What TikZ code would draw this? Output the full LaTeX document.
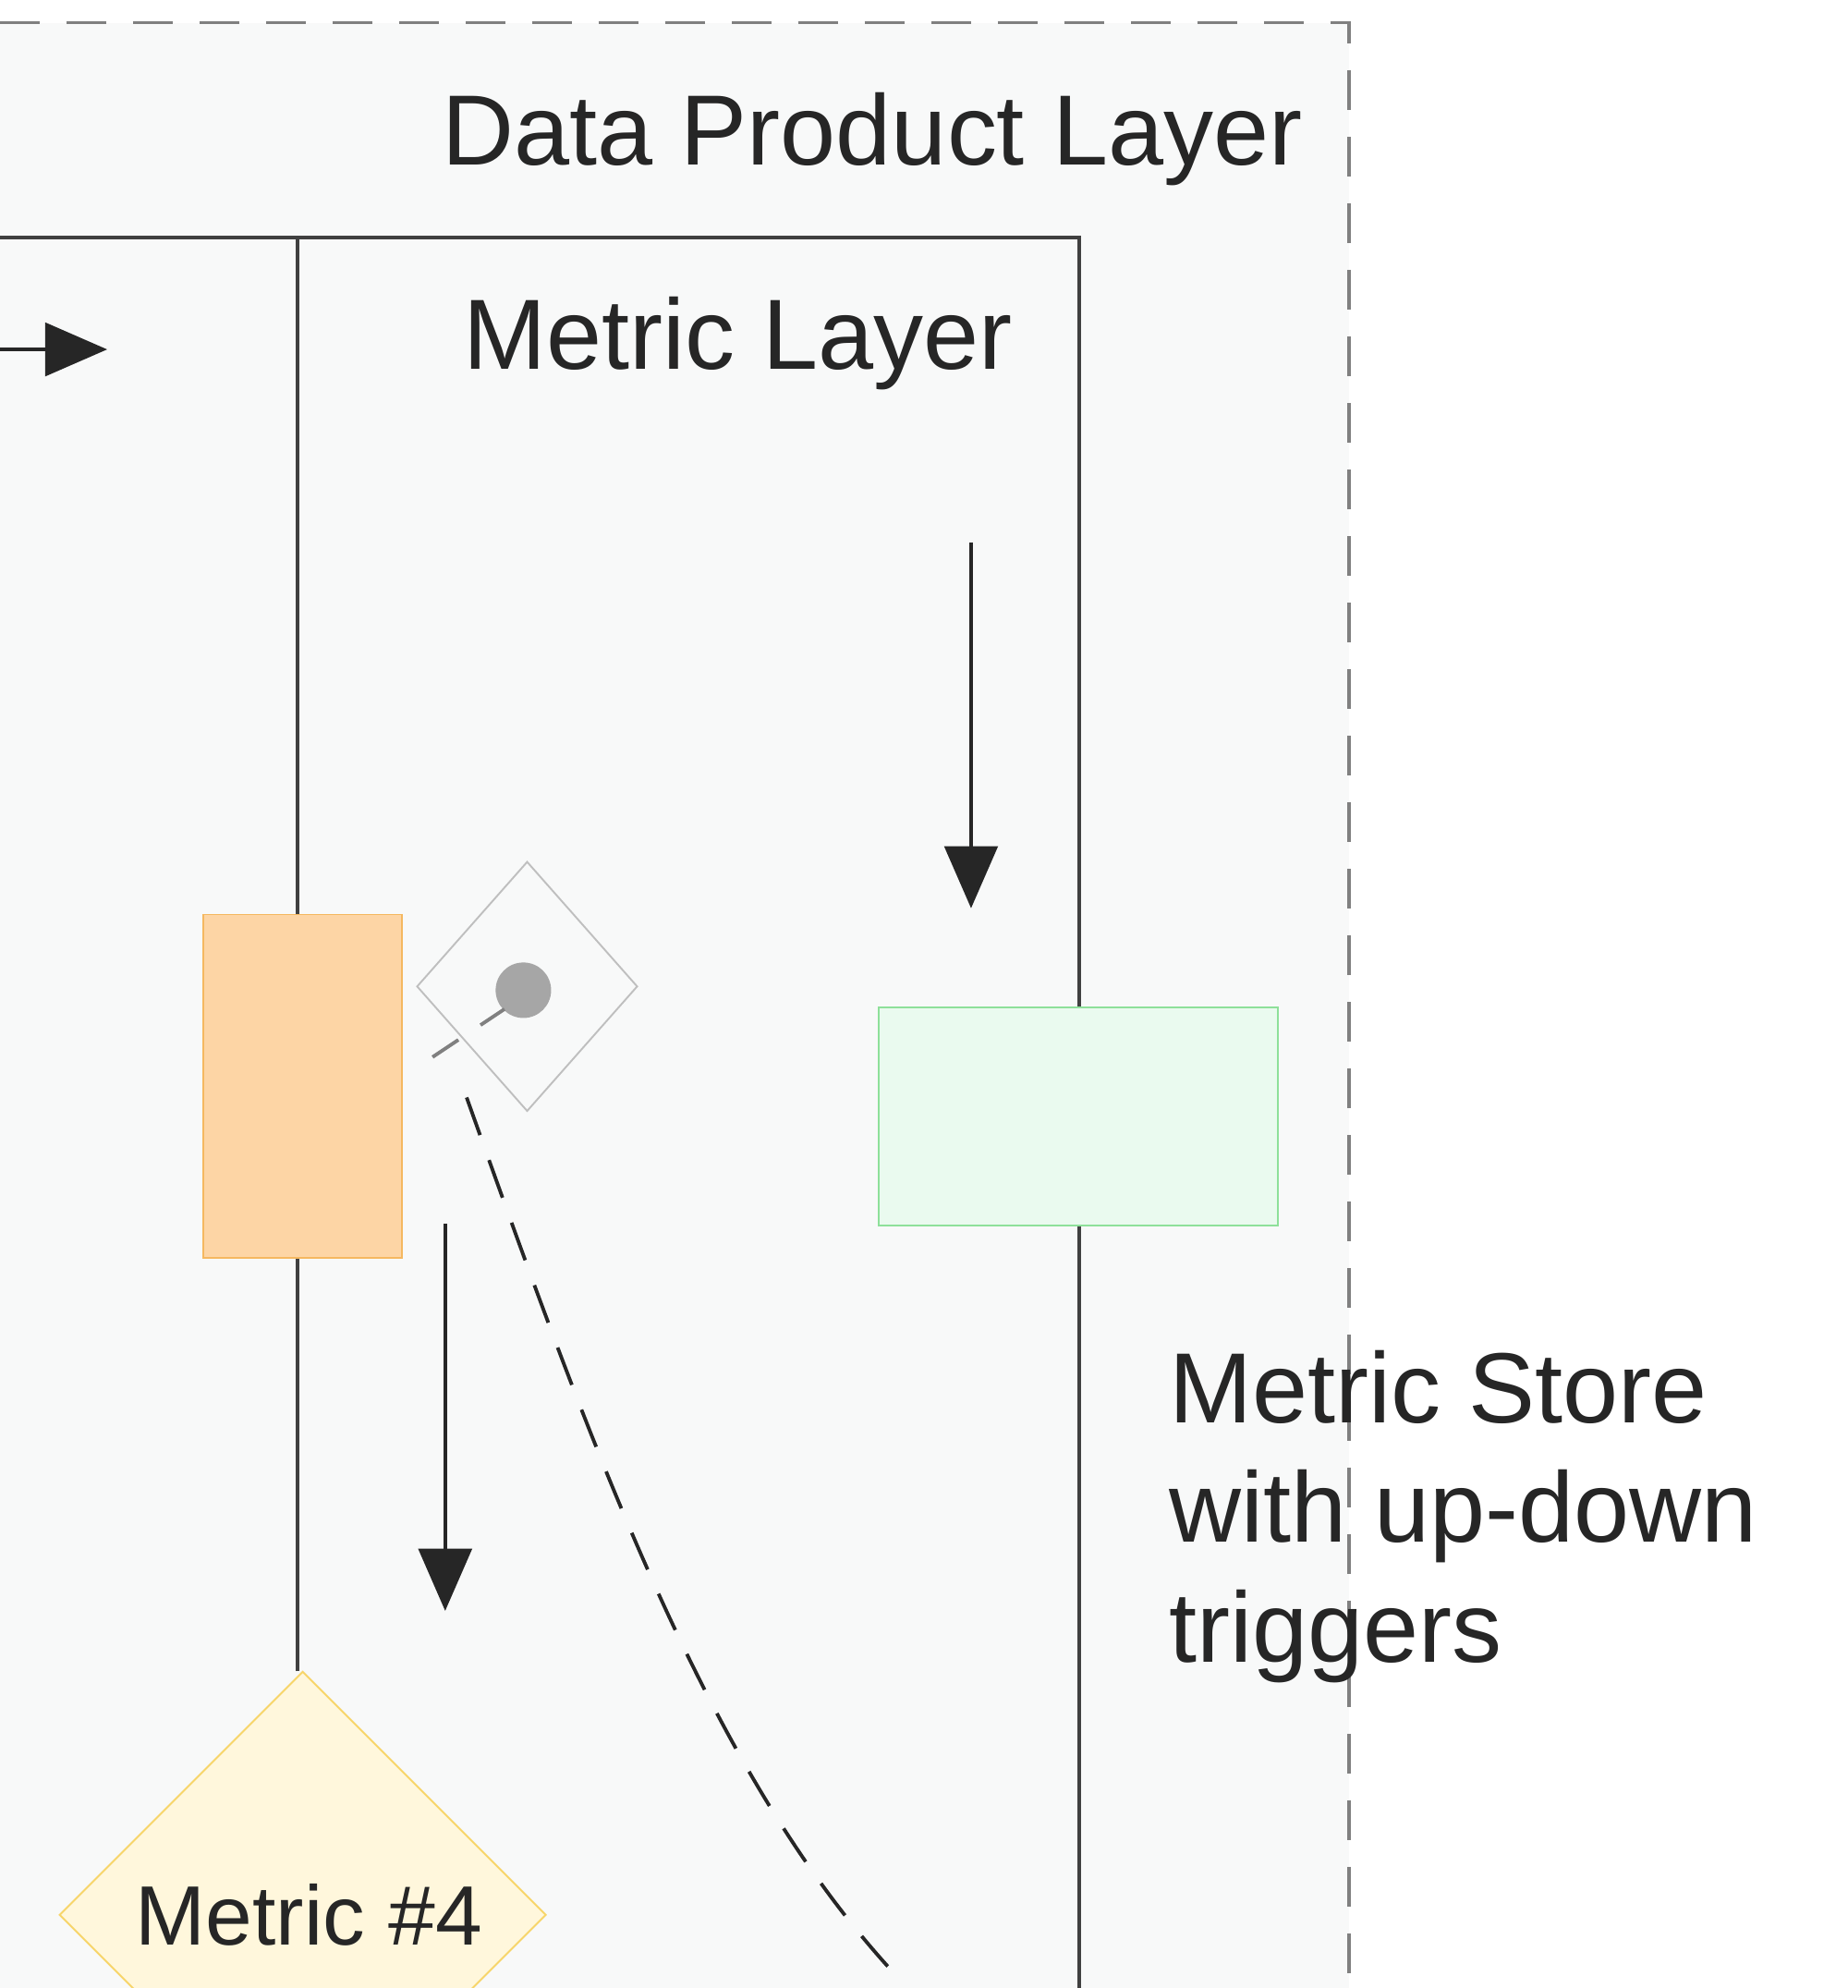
\documentclass[tikz,border=0pt]{standalone}
\usepackage{fontspec}
\setmainfont{Liberation Sans}
\usepackage{xcolor}
\usetikzlibrary{shapes.geometric,arrows.meta}
\definecolor{bg}{HTML}{F8F9F9}
\definecolor{og}{HTML}{FDD5A5}
\definecolor{ogl}{HTML}{F5B860}
\definecolor{gr}{HTML}{EAFAEF}
\definecolor{grl}{HTML}{8EE09A}
\definecolor{yl}{HTML}{FFF7DC}
\definecolor{yll}{HTML}{F7D56A}
\begin{document}
\begin{tikzpicture}[x=0.01cm,y=-0.01cm]
            \tikzstyle{arr}=[-{Triangle[length=14pt,width=12pt]},line width=0.8pt,black!85]
            \tikzstyle{big}=[font=\fontsize{22.5}{27}\selectfont,text=black!85]
            \useasboundingbox (0,0) rectangle (1465,1576);
            \fill[bg] (0,18) rectangle (1070,1576);
            \draw[dashed,gray,line width=0.8pt,dash pattern=on 9pt off 6pt] (0,18) -- (1070,18) -- (1070,1576);
            \node[big,anchor=east] (dpl) at (1045,110) {Data Product Layer};
            % metric layer frame
            \draw[black!75,line width=0.8pt] (236,1325) -- (236,188) -- (0,188);
            \draw[black!75,line width=0.8pt] (236,188) -- (856,188) -- (856,1576);
            \node[big,anchor=east] (ml) at (815,272) {Metric Layer};
            \coordinate (a1) at (0,277); \coordinate (a2) at (85,277);
            \draw[arr] (a1) -- (a2);
            \coordinate (b1) at (770,430); \coordinate (b2) at (770,720);
            \draw[arr] (b1) -- (b2);
            \coordinate (c1) at (353,970); \coordinate (c2) at (353,1277);
            \draw[arr] (c1) -- (c2);
            % boxes
            \node[draw=ogl,fill=og,minimum width=157*0.01cm,minimum height=272*0.01cm,inner sep=0] (orange) at (240,861) {};
            \node[draw=grl,fill=gr,minimum width=317*0.01cm,minimum height=173*0.01cm,inner sep=0] (green) at (855,885) {};
            \node[draw=gray!50,fill=bg,diamond,minimum width=175*0.01cm,minimum height=198*0.01cm,inner sep=0] (gate) at (418,782) {};
            \fill[gray!70] (415,785) circle (22);
            \draw[gray,line width=0.8pt,dash pattern=on 7pt off 6pt] (343,838) -- (400,800);
            \draw[dashed,black!85,line width=0.8pt,dash pattern=on 9pt off 6pt] (370,870) .. controls (470,1150) and (560,1400) .. (705,1560);
            \node[draw=yll,fill=yl,diamond,minimum width=386*0.01cm,minimum height=386*0.01cm,inner sep=0] (m4) at (240,1518) {};
            \node[font=\fontsize{19}{23}\selectfont,text=black!85] at (245,1518) {Metric \#4};
            \node[big,anchor=north west,align=left] (store) at (915,1058) {Metric Store\\with up-down\\triggers};
\end{tikzpicture}
\end{document}
